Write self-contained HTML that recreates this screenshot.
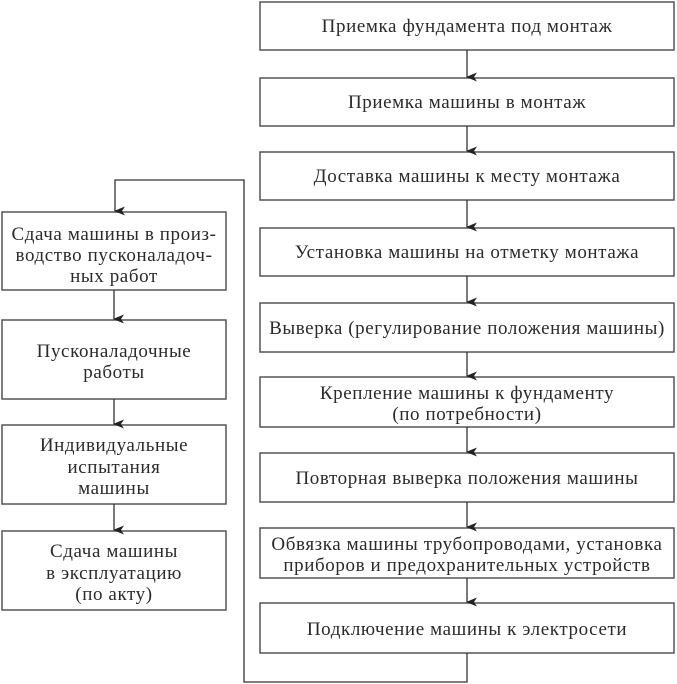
<!DOCTYPE html>
<html><head><meta charset="utf-8"><style>
html,body{margin:0;padding:0;background:#fff;}
svg{display:block}
text{font-family:"Liberation Serif","DejaVu Serif",serif;font-size:19px;letter-spacing:0.6px;fill:#2a2a2a;text-anchor:middle}
</style></head><body>
<svg width="677" height="684" viewBox="0 0 677 684" xmlns="http://www.w3.org/2000/svg">
<defs><marker id="a" markerWidth="9" markerHeight="11" refX="4.5" refY="10" orient="auto" markerUnits="userSpaceOnUse"><path d="M0,0 L4.5,11 L9,0 L4.5,3 Z" fill="#222"/></marker></defs>
<g fill="#fff" stroke="#555" stroke-width="1.5">
<rect x="260" y="2" width="414" height="48"/>
<rect x="260" y="78" width="414" height="48"/>
<rect x="260" y="152" width="414" height="48"/>
<rect x="260" y="228" width="414" height="48"/>
<rect x="260" y="303" width="414" height="49"/>
<rect x="260" y="377" width="414" height="50"/>
<rect x="260" y="453" width="414" height="49"/>
<rect x="260" y="528" width="414" height="50"/>
<rect x="260" y="603" width="414" height="50"/>
<rect x="2" y="212" width="224" height="78"/>
<rect x="2" y="320" width="224" height="79"/>
<rect x="2" y="425" width="224" height="79"/>
<rect x="2" y="531" width="224" height="79"/>
</g>
<g stroke="#333" stroke-width="1.3" fill="none">
<line x1="467" y1="50" x2="467" y2="77" marker-end="url(#a)"/>
<line x1="467" y1="126" x2="467" y2="151" marker-end="url(#a)"/>
<line x1="467" y1="200" x2="467" y2="227" marker-end="url(#a)"/>
<line x1="467" y1="276" x2="467" y2="302" marker-end="url(#a)"/>
<line x1="467" y1="352" x2="467" y2="376" marker-end="url(#a)"/>
<line x1="467" y1="427" x2="467" y2="452" marker-end="url(#a)"/>
<line x1="467" y1="502" x2="467" y2="527" marker-end="url(#a)"/>
<line x1="467" y1="578" x2="467" y2="602" marker-end="url(#a)"/>
<polyline points="467,653 467,682 244,682 244,180 115,180 115,211" marker-end="url(#a)"/>
<line x1="114" y1="290" x2="114" y2="319" marker-end="url(#a)"/>
<line x1="114" y1="399" x2="114" y2="424" marker-end="url(#a)"/>
<line x1="114" y1="504" x2="114" y2="530" marker-end="url(#a)"/>
</g>
<text x="467" y="32">Приемка фундамента под монтаж</text>
<text x="467" y="108">Приемка машины в монтаж</text>
<text x="467" y="182">Доставка машины к месту монтажа</text>
<text x="467" y="258">Установка машины на отметку монтажа</text>
<text x="467" y="334">Выверка (регулирование положения машины)</text>
<text x="467" y="399">Крепление машины к фундаменту</text>
<text x="467" y="420">(по потребности)</text>
<text x="467" y="484">Повторная выверка положения машины</text>
<text x="467" y="550">Обвязка машины трубопроводами, установка</text>
<text x="467" y="571">приборов и предохранительных устройств</text>
<text x="467" y="635">Подключение машины к электросети</text>
<text x="114" y="240">Сдача машины в произ-</text>
<text x="114" y="261">водство пусконаладоч-</text>
<text x="114" y="282">ных работ</text>
<text x="114" y="357">Пусконаладочные</text>
<text x="114" y="378">работы</text>
<text x="114" y="451">Индивидуальные</text>
<text x="114" y="473">испытания</text>
<text x="114" y="494">машины</text>
<text x="114" y="557">Сдача машины</text>
<text x="114" y="579">в эксплуатацию</text>
<text x="114" y="600">(по акту)</text>
</svg>
</body></html>
